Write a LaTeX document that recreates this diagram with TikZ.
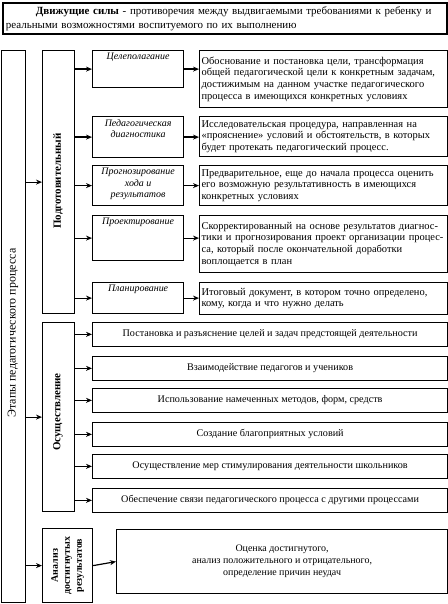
\documentclass[tikz,border=0pt]{standalone}
\usepackage{fontspec}
\setmainfont{Liberation Serif}
\usetikzlibrary{arrows.meta, positioning}

\tikzset{
  box/.style={draw, line width=1.2pt, anchor=north west, inner sep=3bp},
  stage/.style={box, minimum width=91bp},
  stagetext/.style={anchor=north, inner sep=3bp, align=center,
    font=\fontsize{10}{11.5}\selectfont\itshape},
  detail/.style={box, inner xsep=2bp, minimum width=248bp, text width=244bp, align=left,
    font=\fontsize{10.5}{11.7}\selectfont},
  task/.style={box, minimum width=355bp, minimum height=23.5bp, align=center,
    font=\fontsize{10.2}{12}\selectfont},
  column/.style={box},
  coltext/.style={rotate=90, align=center, font=\fontsize{11}{12.5}\selectfont\bfseries},
  arr/.style={-{Stealth[length=6bp,width=5bp]}, line width=1.2pt},
}

\begin{document}
\begin{tikzpicture}[x=1bp, y=-1bp]
  \useasboundingbox (0,0) rectangle (448,604);

  \node[box, line width=1.8pt, minimum width=444bp, minimum height=31bp,
    text width=438bp, align=left, font=\fontsize{11}{14}\selectfont] (forces) at (2,2)
    {\makebox[419bp][s]{\hspace*{30bp}\textbf{Движущие силы} - противоречия между выдвигаемыми требованиями к ребенку и}\\
     реальными возможностями воспитуемого по их выполнению};

  % stages
  \node[column, minimum width=24bp, minimum height=552bp] (stages) at (1,50) {};
  \node[coltext, font=\fontsize{12}{13}\selectfont] (stageslbl) at (13,333) {Этапы педагогического процесса};

  \node[column, minimum width=32bp, minimum height=263bp] (prep) at (42,50) {};
  \node[coltext] (preplbl) at (58,181) {Подготовительный};
  \node[column, minimum width=32bp, minimum height=189bp] (impl) at (42,322) {};
  \node[coltext] (impllbl) at (58,412) {Осуществление};
  \node[column, minimum width=50bp, minimum height=74bp] (anal) at (42,528) {};
  \node[coltext, font=\fontsize{10}{12}\selectfont\bfseries] (anallbl) at (anal.center)
    {Анализ\\достигнутых\\результатов};

  % preparation
  \node[stage, minimum height=37bp, label={[stagetext]north:Целеполагание}] (goal) at (92,50) {};
  \node[stage, minimum height=41bp, label={[stagetext]north:Педагогическая\\диагностика}] (diag) at (92,116) {};
  \node[stage, minimum height=40bp, label={[stagetext]north:Прогнозирование\\хода и\\результатов}] (prog) at (92,165) {};
  \node[stage, minimum height=45bp, label={[stagetext]north:Проектирование}] (proj) at (92,215) {};
  \node[stage, minimum height=31bp, label={[stagetext]north:Планирование}] (plan) at (92,282) {};

  \node[detail, minimum height=57bp] (goaltxt) at (199,50)
    {Обоснование и постановка цели, трансформация\\общей педагогической цели к конкретным задачам,\\достижимым на данном участке педагогического\\процесса в имеющихся конкретных условиях};
  \node[detail, minimum height=40bp] (diagtxt) at (199,116)
    {Исследовательская процедура, направленная на\\«прояснение» условий и обстоятельств, в которых\\будет протекать педагогический процесс.};
  \node[detail, minimum height=40bp] (progtxt) at (199,165)
    {Предварительное, еще до начала процесса оценить\\его возможную результативность в имеющихся\\конкретных условиях};
  \node[detail, minimum height=57bp] (projtxt) at (199,215)
    {Скорректированный на основе результатов диагнос-\\тики и прогнозирования проект организации процес-\\са, который после окончательной доработки\\воплощается в план};
  \node[detail, minimum height=32bp] (plantxt) at (199,282)
    {Итоговый документ, в котором точно определено,\\кому, когда и что нужно делать};

  % implementation
  \node[task] (aims) at (92,322) {Постановка и разъяснение целей и задач предстоящей деятельности};
  \node[task] (inter) at (92,356) {Взаимодействие педагогов и учеников};
  \node[task] (meth) at (92,388) {Использование намеченных методов, форм, средств};
  \node[task] (cond) at (92,422) {Создание благоприятных условий};
  \node[task] (stim) at (92,454) {Осуществление мер стимулирования деятельности школьников};
  \node[task] (link) at (92,488) {Обеспечение связи педагогического процесса с другими процессами};

  % analysis
  \node[box, minimum width=331bp, minimum height=64bp, align=center,
    font=\fontsize{10}{12}\selectfont] (eval) at (116,529)
    {Оценка достигнутого,\\анализ положительного и отрицательного,\\определение причин неудач};

  \draw[arr] (stages.east |- prep.west) -- (prep.west);
  \draw[arr] (stages.east |- impl.west) -- (impl.west);
  \draw[arr] (stages.east |- anal.west) -- (anal.west);
  \draw[arr] (anal.east) -- (eval.west);
  \foreach \s in {goal, diag, prog, proj, plan} {
    \draw[arr] (prep.east |- \s.west) -- (\s.west);
    \draw[arr] (\s.east) -- (\s txt.west |- \s.east);
  }
  \foreach \t in {aims, inter, meth, cond, stim, link}
    \draw[arr] (impl.east |- \t.west) -- (\t.west);
\end{tikzpicture}
\end{document}
